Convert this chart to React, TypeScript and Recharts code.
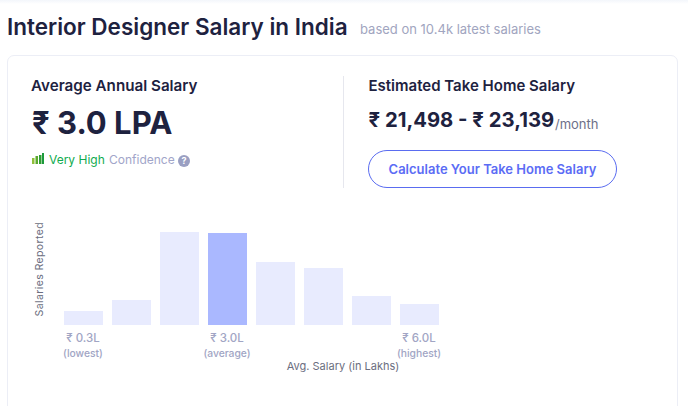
import React from "react";
import { BarChart, Bar, XAxis, YAxis, Cell } from "recharts";

const categories = ["b1", "b2", "b3", "b4", "b5", "b6", "b7", "b8"];
const reported = [14, 25, 93, 92, 63, 57, 29, 21];
const tickTop = ["₹ 0.3L", "", "", "₹ 3.0L", "", "", "", "₹ 6.0L"];
const tickSub = ["(lowest)", "", "", "(average)", "", "", "", "(highest)"];
const highlightIndex = 3;
const rows = categories.map((c, i) => ({ c, v: reported[i] }));

const FONT = "Inter, sans-serif";
const NAVY = "#1e223f";

const T = ({ x, y, size, weight = 400, color = NAVY, children, ls = 0 }: any) => (
  <div style={{ position: "absolute", left: x, top: y, fontSize: size, fontWeight: weight, color, lineHeight: "20px", whiteSpace: "nowrap", letterSpacing: ls }}>{children}</div>
);

const Tick = ({ x, y, index }: any) => (
  <g>
    <text x={x} y={y + 9} textAnchor="middle" fontSize={11.5} fontWeight={500} fill="#a1a5c4" fontFamily={FONT}>{tickTop[index]}</text>
    <text x={x} y={y + 24} textAnchor="middle" fontSize={10.3} fontWeight={500} fill="#a1a5c4" fontFamily={FONT}>{tickSub[index]}</text>
  </g>
);

export default function App() {
  return (
    <div style={{ position: "absolute", left: 0, top: 0, width: 688, height: 406, overflow: "hidden", background: "#fff", fontFamily: FONT }}>
      <div style={{ position: "absolute", left: 0, top: 0, width: 688, height: 4, background: "linear-gradient(#f3f6fb,#ffffff)" }} />
      <div style={{ position: "absolute", left: 7, top: 55, width: 671, height: 380, border: "1px solid #eceef6", borderRadius: 7, boxSizing: "border-box" }} />
      <T x={7} y={17} size={22.5} weight={600}>Interior Designer Salary in India</T>
      <T x={360} y={19} size={13} color="#a1a5c0">based on 10.4k latest salaries</T>
      <T x={31} y={76} size={15.2} weight={600}>Average Annual Salary</T>
      <T x={32} y={113} size={31} weight={700}>₹ 3.0 LPA</T>
      <svg style={{ position: "absolute", left: 32, top: 153 }} width={12} height={12}>
        <rect x={0} y={5} width={2.5} height={6} fill="#8fbf3a" />
        <rect x={3.5} y={3} width={2.5} height={8} fill="#5aa92e" />
        <rect x={7} y={2} width={2.5} height={9} fill="#2f9e33" />
        <rect x={10} y={0} width={2} height={11} fill="#1c9a3c" />
      </svg>
      <T x={49} y={150} size={12} color="#10ab4f">Very High</T>
      <T x={109} y={150} size={12} color="#a1a5c9">Confidence</T>
      <div style={{ position: "absolute", left: 178, top: 155, width: 12, height: 12, borderRadius: 6, background: "#9a9fc2", color: "#fff", fontSize: 9, fontWeight: 700, lineHeight: "12px", textAlign: "center" }}>?</div>
      <div style={{ position: "absolute", left: 343, top: 76, width: 1, height: 112, background: "#e6e7ee" }} />
      <T x={368.5} y={76} size={15} weight={600}>Estimated Take Home Salary</T>
      <T x={368.5} y={110} size={20.3} weight={700}>₹ 21,498 - ₹ 23,139</T>
      <T x={555} y={114} size={13} color="#6d7089">/month</T>
      <div style={{ position: "absolute", left: 368, top: 150, width: 249, height: 38, border: "1px solid #5a6cf0", borderRadius: 19, boxSizing: "border-box", color: "#5b6cf5", fontSize: 13, fontWeight: 600, lineHeight: "36px", textAlign: "center" }}>Calculate Your Take Home Salary</div>
      <div style={{ position: "absolute", left: 0, top: 0 }}>
        <BarChart width={688} height={406} data={rows} margin={{ top: 232, left: 24, right: 245, bottom: 0 }} barCategoryGap={0}>
          <XAxis
            dataKey="c"
            axisLine={false}
            tickLine={false}
            interval={0}
            height={81}
            tick={<Tick />}
            label={{ value: "Avg. Salary (in Lakhs)", position: "insideTop", dy: 32, dx: 92, fontSize: 11, fill: "#6b6e80", fontFamily: FONT }}
          />
          <YAxis
            width={35}
            domain={[0, 93]}
            tick={false}
            axisLine={false}
            tickLine={false}
            label={{ value: "Salaries Reported", angle: -90, position: "insideLeft", dx: 10, dy: 38, fontSize: 10.5, fill: "#6b6e80", fontFamily: FONT, letterSpacing: 0.4 }}
          />
          <Bar dataKey="v" barSize={39} isAnimationActive={false}>
            {rows.map((r, i) => (
              <Cell key={r.c} fill={i === highlightIndex ? "#aab8ff" : "#e8ebfe"} />
            ))}
          </Bar>
        </BarChart>
      </div>
    </div>
  );
}
